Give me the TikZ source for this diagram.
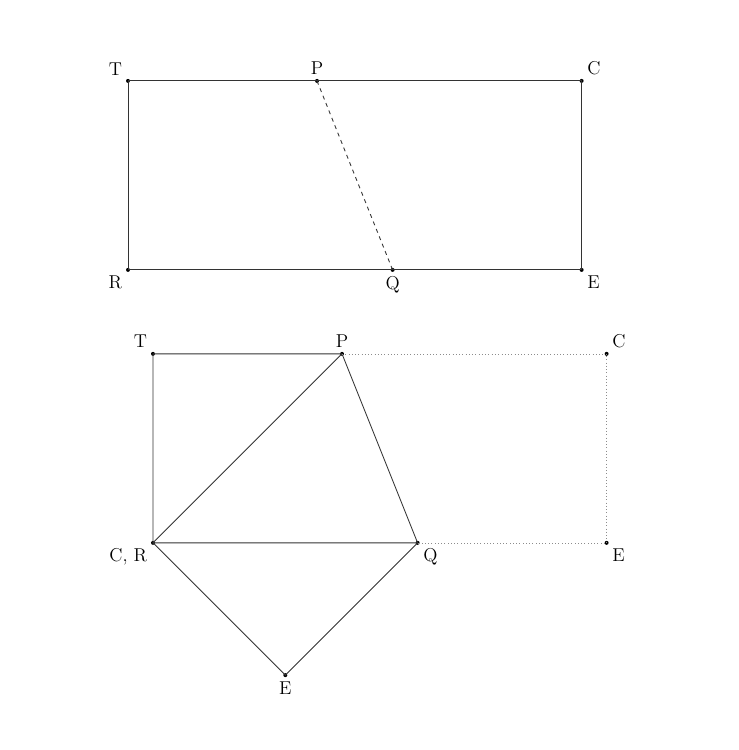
\documentclass[tikz,border=0pt]{standalone}
\begin{document}
\begin{tikzpicture}[x=1cm,y=1cm,
  pt/.style={circle,fill=black,inner sep=0pt,minimum size=3pt},
  edge/.style={draw=black!80,line width=0.65pt},
  ghost/.style={draw=black!45,dotted,line width=0.45pt},
  lbl/.style={inner sep=3pt,font=\fontsize{14}{16}\selectfont}]
\useasboundingbox (-3.386,-12.70) rectangle (16.14,7.14);
% top diagram
\node[pt,label={[lbl]above left:T}] (T1) at (0,5) {};
\node[pt,label={[lbl]above:P}] (P1) at (5,5) {};
\node[pt,label={[lbl]above right:C}] (C1) at (12,5) {};
\node[pt,label={[lbl]below left:R}] (R1) at (0,0) {};
\node[pt,label={[lbl]below:Q}] (Q1) at (7,0) {};
\node[pt,label={[lbl]below right:E}] (E1) at (12,0) {};
\draw[edge] (T1.center) -- (P1.center) -- (C1.center) -- (E1.center) -- (Q1.center) -- (R1.center) -- cycle;
\draw[edge,dashed] (P1.center) -- (Q1.center);
% bottom diagram
\begin{scope}[shift={(0.661,-7.22)}]
\node[pt,label={[lbl]above left:T}] (T2) at (0,5) {};
\node[pt,label={[lbl]above:P}] (P2) at (5,5) {};
\node[pt,label={[lbl]above right:C}] (C2) at (12,5) {};
\node[pt,label={[lbl]below left:{C, R}}] (R2) at (0,0) {};
\node[pt,label={[lbl]below right:Q}] (Q2) at (7,0) {};
\node[pt,label={[lbl]below right:E}] (E2) at (12,0) {};
\node[pt,label={[lbl]below:E}] (E3) at (3.5,-3.5) {};
\draw[edge] (R2.center) -- (T2.center) -- (P2.center) -- (Q2.center) -- (R2.center) -- (P2.center);
\draw[edge] (R2.center) -- (E3.center) -- (Q2.center);
\draw[ghost] (P2.center) -- (C2.center) -- (E2.center) -- (Q2.center);
\end{scope}
\end{tikzpicture}
\end{document}
